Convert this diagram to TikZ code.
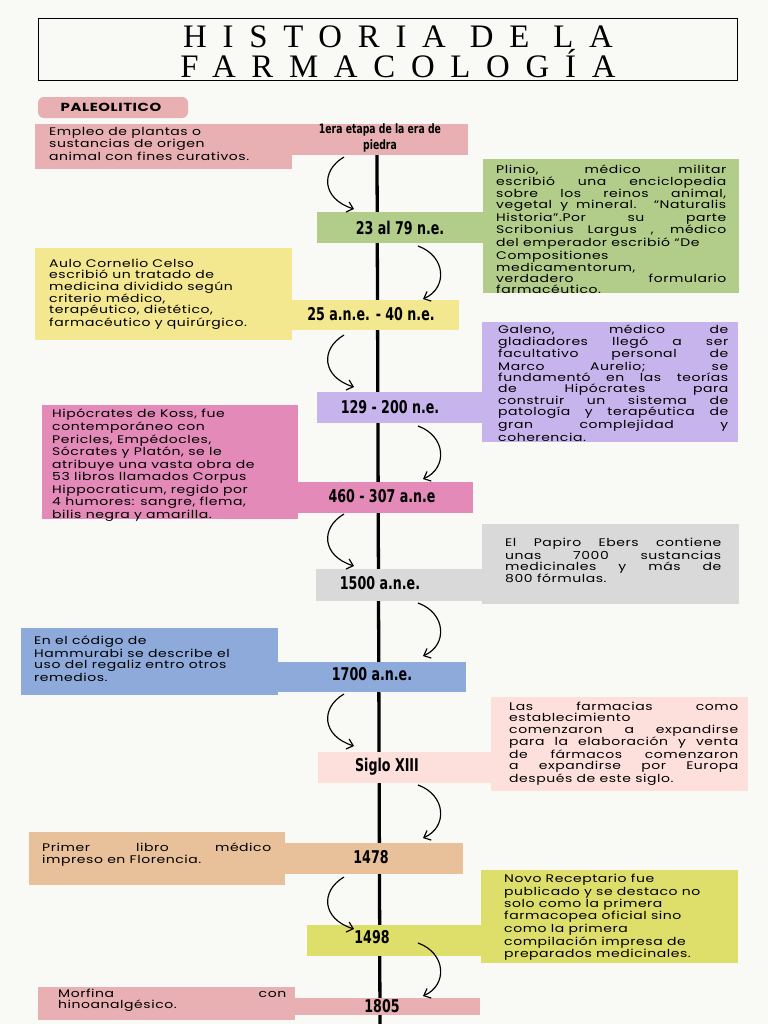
\documentclass[tikz,border=0pt]{standalone}
\usepackage{fontspec}
\setmainfont{Poppins}[FakeStretch=1.27,LetterSpace=5]
\newfontfamily\datefont{DejaVu Sans Condensed}[FakeStretch=0.8]
\newfontfamily\titlefont{Liberation Serif}[LetterSpace=48]
\usetikzlibrary{arrows.meta}
\definecolor{bg}{HTML}{F9F9F6}
\definecolor{cpink}{HTML}{E8B0B2}
\definecolor{cgreen}{HTML}{B2CC8A}
\definecolor{cyellow}{HTML}{F3E78F}
\definecolor{cpurple}{HTML}{C8B4EC}
\definecolor{cmag}{HTML}{E38AB8}
\definecolor{cgray}{HTML}{D9D9D9}
\definecolor{cblue}{HTML}{8EAADB}
\definecolor{clpink}{HTML}{FDE0DC}
\definecolor{ctan}{HTML}{E8C09A}
\definecolor{cyg}{HTML}{DEDE6A}
\tikzset{
  txt/.style={anchor=north west,inner sep=0pt,font=\fontsize{9.4}{9.55}\selectfont,align=left},
  jtxt/.style={txt,align=justify},
  dt/.style={font=\datefont\bfseries\fontsize{15}{14}\selectfont},
  ttl/.style={font=\titlefont\fontsize{28}{24}\selectfont,inner sep=0pt,anchor=base},
  arr/.style={-{Straight Barb[length=5pt,width=9pt]},line width=1pt}
}
\begin{document}
\hyphenpenalty=10000\relax
\exhyphenpenalty=10000\relax
\begin{tikzpicture}[x=0.03cm,y=-0.03cm]
\fill[bg] (0,0) rectangle (768,1024);
\useasboundingbox (0,0) rectangle (768,1024);
\draw[line width=0.6pt] (38,18) rectangle (737,80);
\node[ttl] (title1) at (398,47) {HISTORIA DE LA};
\node[ttl] (title2) at (398,77) {FARMACOLOGÍA};
\fill[cpink,rounded corners=5pt] (38,97) rectangle (188,118);
\node[font=\fontsize{10}{11}\selectfont\bfseries] (paleo) at (111,107.5) {PALEOLITICO};
% timeline
\draw[line width=2.8pt] (377,155) -- (380,1024);
% boxes
\fill[cpink] (35,124) rectangle (292,169); \fill[cpink] (292,124) rectangle (468,155);
\node[txt] (t1) at (49,127) {Empleo de plantas o\\sustancias de origen\\animal con fines curativos.};
\node[dt,font=\datefont\bfseries\fontsize{11}{13.5}\selectfont,align=center] (d1) at (380,138) {1era etapa de la era de\\piedra};
\fill[cgreen] (483,159) rectangle (739,293); \fill[cgreen] (317,212) rectangle (483,243);
\node[dt] (d2) at (400,227.5) {23 al 79 n.e.};
\node[jtxt,text width=230*0.03cm] (t2) at (496,165) {Plinio, médico militar\linebreak escribió una enciclopedia\linebreak sobre los reinos animal,\linebreak vegetal y mineral. “Naturalis\linebreak Historia”.Por su parte\linebreak Scribonius Largus , médico\linebreak del emperador escribió “De\\Compositiones\\medicamentorum,\\verdadero formulario\linebreak farmacéutico.};
\fill[cyellow] (35,248) rectangle (292,340); \fill[cyellow] (292,300) rectangle (459,330);
\node[txt] (t3) at (49,259) {Aulo Cornelio Celso\\escribió un tratado de\\medicina dividido según\\criterio médico,\\terapéutico, dietético,\\farmacéutico y quirúrgico.};
\node[dt] (d3) at (371,314) {25 a.n.e. - 40 n.e.};
\fill[cpurple] (482,322) rectangle (738,442); \fill[cpurple] (317,392) rectangle (482,423);
\node[jtxt,text width=230*0.03cm] (t4) at (498,325) {Galeno, médico de\linebreak gladiadores llegó a ser\linebreak facultativo personal de\linebreak Marco Aurelio; se\linebreak fundamentó en las teorías\linebreak de Hipócrates para\linebreak construir un sistema de\linebreak patología y terapéutica de\linebreak gran complejidad y\linebreak coherencia.};
\node[dt] (d4) at (390,407.5) {129 - 200 n.e.};
\fill[cmag] (42,405) rectangle (298,519); \fill[cmag] (298,482) rectangle (473,513);
\node[txt] (t5) at (52,409) {Hipócrates de Koss, fue\\contemporáneo con\\Pericles, Empédocles,\\Sócrates y Platón, se le\\atribuye una vasta obra de\\53 libros llamados Corpus\\Hippocraticum, regido por\\4 humores: sangre, flema,\\bilis negra y amarilla.};
\node[dt] (d5) at (382,496) {460 - 307 a.n.e};
\fill[cgray] (482,524) rectangle (739,604); \fill[cgray] (316,569) rectangle (482,601);
\node[jtxt,text width=216*0.03cm] (t6) at (505,538) {El Papiro Ebers contiene\linebreak unas 7000 sustancias\linebreak medicinales y más de\linebreak 800 fórmulas.};
\node[dt] (d6) at (380,583) {1500 a.n.e.};
\fill[cblue] (21,628) rectangle (278,695); \fill[cblue] (278,662) rectangle (466,692);
\node[txt] (t7) at (34,636) {En el código de\\Hammurabi se describe el\\uso del regaliz entro otros\\remedios.};
\node[dt] (d7) at (372,674) {1700 a.n.e.};
\fill[clpink] (491,697) rectangle (748,791); \fill[clpink] (318,752) rectangle (491,783);
\node[jtxt,text width=229*0.03cm] (t8) at (509,702) {Las farmacias como\linebreak establecimiento\\comenzaron a expandirse\linebreak para la elaboración y venta\linebreak de fármacos comenzaron\linebreak a expandirse por Europa\linebreak después de este siglo.};
\node[dt] (d8) at (387,767) {Siglo XIII};
\fill[ctan] (29,832) rectangle (285,885); \fill[ctan] (285,843) rectangle (463,874);
\node[jtxt,text width=229*0.03cm] (t9) at (42,843) {Primer libro médico\linebreak impreso en Florencia.};
\node[dt] (d9) at (371,857) {1478};
\fill[cyg] (481,870) rectangle (738,963); \fill[cyg] (307,925) rectangle (481,956);
\node[txt] (t10) at (504,874) {Novo Receptario fue\\publicado y se destaco no\\solo como la primera\\farmacopea oficial sino\\como la primera\\compilación impresa de\\preparados medicinales.};
\node[dt] (d10) at (372,937) {1498};
\fill[cpink] (38,987) rectangle (295,1020); \fill[cpink] (295,998) rectangle (480,1015);
\node[jtxt,text width=228*0.03cm] (t11) at (58,989) {Morfina con\linebreak hinoanalgésico.};
\node[dt] (d11) at (382,1006) {1805};
% arrows
\foreach \a in {157,335,514,694,877}{
  \draw[arr] (344,\a) .. controls (320,\a+14) and (322,\a+42) .. (354,\a+52);}
\foreach \a in {246,426,603,785,943}{
  \draw[arr] (418,\a) .. controls (446,\a+10) and (448,\a+42) .. (423,\a+53);}
\end{tikzpicture}
\end{document}
